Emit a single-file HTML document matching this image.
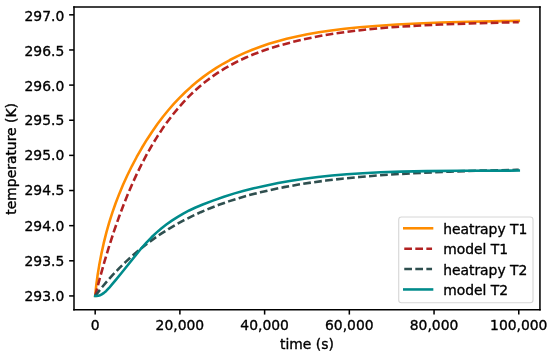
<!DOCTYPE html>
<html><head><meta charset="utf-8"><title>heatrapy vs model</title>
<style>html,body{margin:0;padding:0;background:#fff;}body{width:550px;height:355px;overflow:hidden;}svg{display:block;}</style>
</head><body>
<svg width="550" height="355" viewBox="0 0 396 255.6" version="1.1"> <defs> <style type="text/css">*{stroke-linejoin: round; stroke-linecap: butt}</style> </defs> <g id="figure_1"> <g id="patch_1"> <path d="M 0 255.6  L 396 255.6  L 396 0  L 0 0  z " style="fill: #ffffff"/> </g> <g id="axes_1"> <g id="patch_2"> <path d="M 53.28 222.984  L 388.764 222.984  L 388.764 5.04  L 53.28 5.04  z " style="fill: #ffffff"/> </g> <g id="matplotlib.axis_1"> <g id="xtick_1"> <g id="line2d_1"> <g> <path transform="translate(68.529 222.984)" d="M 0 0  L 0 3.5  " style="stroke: #000000; stroke-width: 1.1"/> </g> </g> <g id="text_1"> <text style="stroke: #000; stroke-width: 0.25px; font-size: 10px; font-family: 'DejaVu Sans', 'Liberation Sans', sans-serif; text-anchor: middle" x="68.529" y="237.582" transform="rotate(-0 68.529 237.582)">0</text> </g> </g> <g id="xtick_2"> <g id="line2d_2"> <g> <path transform="translate(129.526 222.984)" d="M 0 0  L 0 3.5  " style="stroke: #000000; stroke-width: 1.1"/> </g> </g> <g id="text_2"> <text style="stroke: #000; stroke-width: 0.25px; font-size: 10px; font-family: 'DejaVu Sans', 'Liberation Sans', sans-serif; text-anchor: middle" x="129.526" y="237.582" transform="rotate(-0 129.526 237.582)">20,000</text> </g> </g> <g id="xtick_3"> <g id="line2d_3"> <g> <path transform="translate(190.523 222.984)" d="M 0 0  L 0 3.5  " style="stroke: #000000; stroke-width: 1.1"/> </g> </g> <g id="text_3"> <text style="stroke: #000; stroke-width: 0.25px; font-size: 10px; font-family: 'DejaVu Sans', 'Liberation Sans', sans-serif; text-anchor: middle" x="190.523" y="237.582" transform="rotate(-0 190.523 237.582)">40,000</text> </g> </g> <g id="xtick_4"> <g id="line2d_4"> <g> <path transform="translate(251.520 222.984)" d="M 0 0  L 0 3.5  " style="stroke: #000000; stroke-width: 1.1"/> </g> </g> <g id="text_4"> <text style="stroke: #000; stroke-width: 0.25px; font-size: 10px; font-family: 'DejaVu Sans', 'Liberation Sans', sans-serif; text-anchor: middle" x="251.520" y="237.582" transform="rotate(-0 251.520 237.582)">60,000</text> </g> </g> <g id="xtick_5"> <g id="line2d_5"> <g> <path transform="translate(312.517 222.984)" d="M 0 0  L 0 3.5  " style="stroke: #000000; stroke-width: 1.1"/> </g> </g> <g id="text_5"> <text style="stroke: #000; stroke-width: 0.25px; font-size: 10px; font-family: 'DejaVu Sans', 'Liberation Sans', sans-serif; text-anchor: middle" x="312.517" y="237.582" transform="rotate(-0 312.517 237.582)">80,000</text> </g> </g> <g id="xtick_6"> <g id="line2d_6"> <g> <path transform="translate(373.514 222.984)" d="M 0 0  L 0 3.5  " style="stroke: #000000; stroke-width: 1.1"/> </g> </g> <g id="text_6"> <text style="stroke: #000; stroke-width: 0.25px; font-size: 10px; font-family: 'DejaVu Sans', 'Liberation Sans', sans-serif; text-anchor: middle" x="373.514" y="237.582" transform="rotate(-0 373.514 237.582)">100,000</text> </g> </g> <g id="text_7"> <text style="stroke: #000; stroke-width: 0.25px; font-size: 10px; font-family: 'DejaVu Sans', 'Liberation Sans', sans-serif; text-anchor: middle" x="221.022" y="251.260" transform="rotate(-0 221.022 251.260)">time (s)</text> </g> </g> <g id="matplotlib.axis_2"> <g id="ytick_1"> <g id="line2d_7"> <g> <path transform="translate(53.28 213.076)" d="M 0 0  L -3.5 0  " style="stroke: #000000; stroke-width: 1.1"/> </g> </g> <g id="text_8" transform="translate(0 -0.216)"> <text style="stroke: #000; stroke-width: 0.25px; font-size: 10px; font-family: 'DejaVu Sans', 'Liberation Sans', sans-serif; text-anchor: end" x="46.28" y="216.875" transform="rotate(-0 46.28 216.875)">293.0</text> </g> </g> <g id="ytick_2"> <g id="line2d_8"> <g> <path transform="translate(53.28 187.775)" d="M 0 0  L -3.5 0  " style="stroke: #000000; stroke-width: 1.1"/> </g> </g> <g id="text_9"> <text style="stroke: #000; stroke-width: 0.25px; font-size: 10px; font-family: 'DejaVu Sans', 'Liberation Sans', sans-serif; text-anchor: end" x="46.28" y="191.574" transform="rotate(-0 46.28 191.574)">293.5</text> </g> </g> <g id="ytick_3"> <g id="line2d_9"> <g> <path transform="translate(53.28 162.475)" d="M 0 0  L -3.5 0  " style="stroke: #000000; stroke-width: 1.1"/> </g> </g> <g id="text_10"> <text style="stroke: #000; stroke-width: 0.25px; font-size: 10px; font-family: 'DejaVu Sans', 'Liberation Sans', sans-serif; text-anchor: end" x="46.28" y="166.274" transform="rotate(-0 46.28 166.274)">294.0</text> </g> </g> <g id="ytick_4"> <g id="line2d_10"> <g> <path transform="translate(53.28 137.174)" d="M 0 0  L -3.5 0  " style="stroke: #000000; stroke-width: 1.1"/> </g> </g> <g id="text_11" transform="translate(0 -0.216)"> <text style="stroke: #000; stroke-width: 0.25px; font-size: 10px; font-family: 'DejaVu Sans', 'Liberation Sans', sans-serif; text-anchor: end" x="46.28" y="140.973" transform="rotate(-0 46.28 140.973)">294.5</text> </g> </g> <g id="ytick_5"> <g id="line2d_11"> <g> <path transform="translate(53.28 111.874)" d="M 0 0  L -3.5 0  " style="stroke: #000000; stroke-width: 1.1"/> </g> </g> <g id="text_12" transform="translate(0 -0.324)"> <text style="stroke: #000; stroke-width: 0.25px; font-size: 10px; font-family: 'DejaVu Sans', 'Liberation Sans', sans-serif; text-anchor: end" x="46.28" y="115.673" transform="rotate(-0 46.28 115.673)">295.0</text> </g> </g> <g id="ytick_6"> <g id="line2d_12"> <g> <path transform="translate(53.28 86.573)" d="M 0 0  L -3.5 0  " style="stroke: #000000; stroke-width: 1.1"/> </g> </g> <g id="text_13" transform="translate(0 -0.216)"> <text style="stroke: #000; stroke-width: 0.25px; font-size: 10px; font-family: 'DejaVu Sans', 'Liberation Sans', sans-serif; text-anchor: end" x="46.28" y="90.372" transform="rotate(-0 46.28 90.372)">295.5</text> </g> </g> <g id="ytick_7"> <g id="line2d_13"> <g> <path transform="translate(53.28 61.273)" d="M 0 0  L -3.5 0  " style="stroke: #000000; stroke-width: 1.1"/> </g> </g> <g id="text_14" transform="translate(0 0.324)"> <text style="stroke: #000; stroke-width: 0.25px; font-size: 10px; font-family: 'DejaVu Sans', 'Liberation Sans', sans-serif; text-anchor: end" x="46.28" y="65.072" transform="rotate(-0 46.28 65.072)">296.0</text> </g> </g> <g id="ytick_8"> <g id="line2d_14"> <g> <path transform="translate(53.28 35.972)" d="M 0 0  L -3.5 0  " style="stroke: #000000; stroke-width: 1.1"/> </g> </g> <g id="text_15" transform="translate(0 0.324)"> <text style="stroke: #000; stroke-width: 0.25px; font-size: 10px; font-family: 'DejaVu Sans', 'Liberation Sans', sans-serif; text-anchor: end" x="46.28" y="39.771" transform="rotate(-0 46.28 39.771)">296.5</text> </g> </g> <g id="ytick_9"> <g id="line2d_15"> <g> <path transform="translate(53.28 10.671)" d="M 0 0  L -3.5 0  " style="stroke: #000000; stroke-width: 1.1"/> </g> </g> <g id="text_16" transform="translate(0 0.324)"> <text style="stroke: #000; stroke-width: 0.25px; font-size: 10px; font-family: 'DejaVu Sans', 'Liberation Sans', sans-serif; text-anchor: end" x="46.28" y="14.471" transform="rotate(-0 46.28 14.471)">297.0</text> </g> </g> <g id="text_17" transform="translate(0 0.36)"> <text style="stroke: #000; stroke-width: 0.25px; font-size: 10px; font-family: 'DejaVu Sans', 'Liberation Sans', sans-serif; text-anchor: middle" x="11.572" y="114.012" transform="rotate(-90 11.572 114.012)">temperature (K)</text> </g> </g> <g id="line2d_16"> <path d="M 68.529 213.076  L 69.367 204.834  L 70.206 198.591  L 71.426 191.048  L 72.951 182.981  L 74.628 175.262  L 76.611 167.304  L 78.593 160.281  L 80.881 153.058  L 83.244 146.333  L 85.913 139.424  L 88.658 132.901  L 91.708 126.202  L 95.063 119.376  L 98.417 113.031  L 102.077 106.586  L 105.737 100.585  L 109.397 94.986  L 113.362 89.338  L 117.326 84.089  L 121.291 79.210  L 125.256 74.673  L 129.221 70.453  L 133.491 66.238  L 137.760 62.339  L 142.030 58.733  L 146.605 55.167  L 151.180 51.887  L 155.755 48.868  L 160.634 45.913  L 165.514 43.209  L 170.699 40.586  L 176.189 38.065  L 181.678 35.783  L 187.473 33.608  L 193.573 31.551  L 199.978 29.625  L 206.382 27.932  L 213.702 26.240  L 221.326 24.705  L 229.561 23.274  L 238.406 21.963  L 248.165 20.747  L 258.840 19.649  L 270.429 18.685  L 285.678 17.649  L 300.623 16.868  L 317.702 16.201  L 337.831 15.643  L 362.230 15.196  L 373.514 15.049  L 373.514 15.049  " clip-path="url(#p9a2afbd361)" style="fill: none; stroke: #ff8c00; stroke-width: 1.85; stroke-linecap: square"/> </g> <g id="line2d_17"> <path d="M 68.529 213.076  L 71.884 200.233  L 75.315 188.040  L 78.670 176.961  L 82.024 166.647  L 85.455 156.828  L 88.658 148.277  L 92.013 139.907  L 95.367 132.095  L 98.722 124.799  L 102.382 117.384  L 106.042 110.496  L 109.702 104.093  L 113.362 98.139  L 117.021 92.601  L 120.681 87.448  L 124.341 82.651  L 128.306 77.827  L 132.271 73.361  L 136.236 69.225  L 140.200 65.396  L 144.165 61.871  L 148.130 58.639  L 152.400 55.451  L 156.975 52.318  L 161.549 49.455  L 166.429 46.672  L 171.614 43.988  L 177.104 41.409  L 182.593 39.079  L 188.388 36.874  L 194.183 34.903  L 200.587 32.967  L 210.042 30.398  L 217.362 28.607  L 224.986 26.969  L 233.221 25.425  L 242.065 23.994  L 251.825 22.645  L 262.500 21.395  L 273.784 20.292  L 285.068 19.428  L 300.013 18.505  L 317.397 17.665  L 337.831 16.908  L 362.840 16.214  L 373.514 15.976  L 373.514 15.976  " clip-path="url(#p9a2afbd361)" style="fill: none; stroke-dasharray: 5.55,2.4; stroke-dashoffset: 0; stroke: #b22222; stroke-width: 1.85"/> </g> <g id="line2d_18"> <path d="M 68.529 213.076  L 72.646 207.808  L 76.840 202.801  L 81.338 197.781  L 86.065 192.855  L 90.488 188.542  L 95.367 184.088  L 100.247 179.930  L 105.432 175.814  L 110.617 171.987  L 115.802 168.427  L 121.291 164.929  L 126.781 161.689  L 132.576 158.528  L 138.370 155.612  L 144.470 152.788  L 150.875 150.069  L 157.585 147.470  L 164.599 145.001  L 171.919 142.670  L 179.543 140.481  L 187.473 138.439  L 195.708 136.543  L 204.552 134.736  L 214.007 133.034  L 224.071 131.453  L 234.746 130.001  L 246.335 128.651  L 258.840 127.418  L 272.564 126.291  L 287.813 125.266  L 304.893 124.349  L 324.107 123.546  L 346.066 122.856  L 371.989 122.271  L 373.514 122.242  L 373.514 122.242  " clip-path="url(#p9a2afbd361)" style="fill: none; stroke-dasharray: 5.55,2.4; stroke-dashoffset: 0; stroke: #2f4f4f; stroke-width: 1.85"/> </g> <g id="line2d_19"> <path d="M 68.529 213.076  L 69.596 213.152  L 70.816 212.961  L 71.960 212.591  L 73.256 211.952  L 74.857 210.860  L 76.458 209.491  L 78.517 207.335  L 80.652 204.766  L 83.549 201.297  L 87.743 196.175  L 101.467 179.116  L 105.432 174.644  L 109.092 170.853  L 112.447 167.684  L 116.107 164.543  L 119.766 161.689  L 123.731 158.864  L 128.001 156.096  L 131.966 153.782  L 136.236 151.547  L 140.810 149.403  L 145.995 147.231  L 153.315 144.455  L 161.244 141.664  L 168.869 139.230  L 174.969 137.495  L 181.983 135.741  L 191.133 133.672  L 200.282 131.828  L 209.737 130.153  L 219.192 128.708  L 228.951 127.444  L 239.016 126.367  L 249.690 125.449  L 261.280 124.679  L 274.089 124.053  L 289.033 123.556  L 307.027 123.191  L 330.511 122.952  L 367.110 122.827  L 373.514 122.819  L 373.514 122.819  " clip-path="url(#p9a2afbd361)" style="fill: none; stroke: #008b8b; stroke-width: 1.85; stroke-linecap: square"/> </g> <g id="patch_3"> <path d="M 53.28 222.984  L 53.28 5.04  " style="fill: none; stroke: #000000; stroke-width: 1.1; stroke-linejoin: miter; stroke-linecap: square"/> </g> <g id="patch_4"> <path d="M 388.764 222.984  L 388.764 5.04  " style="fill: none; stroke: #000000; stroke-width: 1.1; stroke-linejoin: miter; stroke-linecap: square"/> </g> <g id="patch_5"> <path d="M 53.28 222.984  L 388.764 222.984  " style="fill: none; stroke: #000000; stroke-width: 1.1; stroke-linejoin: miter; stroke-linecap: square"/> </g> <g id="patch_6"> <path d="M 53.28 5.04  L 388.764 5.04  " style="fill: none; stroke: #000000; stroke-width: 1.1; stroke-linejoin: miter; stroke-linecap: square"/> </g> <g id="legend_1"> <g id="patch_7"> <path d="M 289.070 217.984  L 381.764 217.984  Q 383.764 217.984 383.764 215.984  L 383.764 158.271  Q 383.764 156.271 381.764 156.271  L 289.070 156.271  Q 287.070 156.271 287.070 158.271  L 287.070 215.984  Q 287.070 217.984 289.070 217.984  z " style="fill: #ffffff; opacity: 0.8; stroke: #cccccc; stroke-width: 0.8; stroke-linejoin: miter"/> </g> <g id="line2d_20"> <path d="M 291.070 164.369  L 301.070 164.369  L 311.070 164.369  " style="fill: none; stroke: #ff8c00; stroke-width: 1.85; stroke-linecap: square"/> </g> <g id="text_18" transform="translate(0 0.5)"> <text style="stroke: #000; stroke-width: 0.25px; font-size: 10px; font-family: 'DejaVu Sans', 'Liberation Sans', sans-serif; text-anchor: start" x="319.070" y="167.869" transform="rotate(-0 319.070 167.869)">heatrapy T1</text> </g> <g id="line2d_21"> <path d="M 291.070 179.048  L 301.070 179.048  L 311.070 179.048  " style="fill: none; stroke-dasharray: 5.55,2.4; stroke-dashoffset: 0; stroke: #b22222; stroke-width: 1.85"/> </g> <g id="text_19" transform="translate(0 0.5)"> <text style="stroke: #000; stroke-width: 0.25px; font-size: 10px; font-family: 'DejaVu Sans', 'Liberation Sans', sans-serif; text-anchor: start" x="319.070" y="182.548" transform="rotate(-0 319.070 182.548)">model T1</text> </g> <g id="line2d_22"> <path d="M 291.070 193.726  L 301.070 193.726  L 311.070 193.726  " style="fill: none; stroke-dasharray: 5.55,2.4; stroke-dashoffset: 0; stroke: #2f4f4f; stroke-width: 1.85"/> </g> <g id="text_20" transform="translate(0 0.5)"> <text style="stroke: #000; stroke-width: 0.25px; font-size: 10px; font-family: 'DejaVu Sans', 'Liberation Sans', sans-serif; text-anchor: start" x="319.070" y="197.226" transform="rotate(-0 319.070 197.226)">heatrapy T2</text> </g> <g id="line2d_23"> <path d="M 291.070 208.404  L 301.070 208.404  L 311.070 208.404  " style="fill: none; stroke: #008b8b; stroke-width: 1.85; stroke-linecap: square"/> </g> <g id="text_21" transform="translate(0 0.5)"> <text style="stroke: #000; stroke-width: 0.25px; font-size: 10px; font-family: 'DejaVu Sans', 'Liberation Sans', sans-serif; text-anchor: start" x="319.070" y="211.904" transform="rotate(-0 319.070 211.904)">model T2</text> </g> </g> </g> </g> <defs> <clipPath id="p9a2afbd361"> <rect x="53.28" y="5.04" width="335.484" height="217.944"/> </clipPath> </defs> </svg> 
</body></html>
